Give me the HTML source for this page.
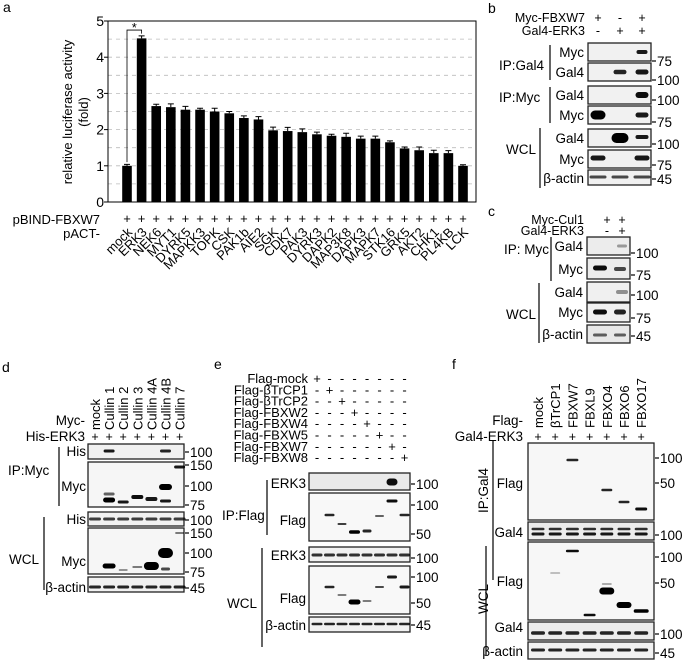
<!DOCTYPE html>
<html><head><meta charset="utf-8"><style>
html,body{margin:0;padding:0;background:#fff;}
svg{display:block;font-family:"Liberation Sans",Arial,sans-serif;}
</style></head><body>
<svg id="fig" width="685" height="661" viewBox="0 0 685 661" xmlns="http://www.w3.org/2000/svg">
<g id="pa"></g>
<g id="blots"></g>
</svg>
<script>
// ---- Panel a chart data ----
const categories = ["mock","ERK3","NEK6","MYT1","DYRK5","MAPKK3","TOPK","CSK","PAK1b","AIE2","SGK","CDK7","PAK3","DYRK3","DAPK2","MAP3K8","DAPK3","MAPK7","STK16","GRK5","AKT2","CHK1","PL4KB","LCK"];
const values = [1.0,4.52,2.65,2.62,2.55,2.55,2.5,2.45,2.32,2.28,1.98,1.96,1.93,1.87,1.83,1.8,1.75,1.75,1.65,1.48,1.43,1.35,1.35,1.0];
const errors = [0.04,0.07,0.05,0.09,0.09,0.04,0.09,0.05,0.06,0.08,0.09,0.1,0.09,0.06,0.04,0.1,0.07,0.07,0.04,0.04,0.09,0.08,0.07,0.03];
const yTicks = [0,1,2,3,4,5];
const gridLines = [0.5,1.5,2.5,3.5,4.5,1,2,3,4];

const NS="http://www.w3.org/2000/svg";
function mk(tag,parent,attrs,text){const e=document.createElementNS(NS,tag);for(const k in attrs)e.setAttribute(k,attrs[k]);if(text!==undefined)e.textContent=text;parent.appendChild(e);return e;}

const pa=document.getElementById('pa');
const X0=108,X1=476,Y0=202,Y1=21;
const yS=v=>Y0-(Y0-Y1)*v/5;
const xS=i=>127+i*(463-127)/(categories.length-1);

let t=mk('text',pa,{x:3,y:12,'font-size':14},'a');


gridLines.forEach(g=>{const l=mk('line',pa,{x1:X0,x2:X1,y1:yS(g),y2:yS(g),stroke:'#bbb','stroke-width':0.8,'stroke-dasharray':'4,4'});

});
let fr=mk('rect',pa,{x:X0,y:Y1,width:X1-X0,height:Y0-Y1,fill:'none',stroke:'#000','stroke-width':1});


yTicks.forEach(v=>{const l=mk('line',pa,{x1:X0-4,x2:X0,y1:yS(v),y2:yS(v),stroke:'#000'});


const tx=mk('text',pa,{x:X0-4,y:yS(v)+5,'font-size':14,'text-anchor':'end'},String(v));

});
t=mk('text',pa,{x:0,y:0,'font-size':13,'text-anchor':'middle',transform:'translate(72,112) rotate(-90)'},'relative luciferase activity');


t=mk('text',pa,{x:0,y:0,'font-size':13,'text-anchor':'middle',transform:'translate(88,112) rotate(-90)'},'(fold)');


categories.forEach((c,i)=>{
 const cx=xS(i),v=values[i],e=errors[i];
 const b=mk('rect',pa,{x:cx-4.8,y:yS(v),width:9.6,height:Y0-yS(v),fill:'#000'});
 
 
 const eb=mk('path',pa,{d:`M${cx},${yS(v)} V${yS(v+e)} M${cx-3},${yS(v+e)} H${cx+3}`,stroke:'#000','stroke-width':1,fill:'none'});
 
 
 const p=mk('text',pa,{x:cx,y:223,'font-size':13,'text-anchor':'middle'},'+');
 
 
 const l=mk('text',pa,{x:0,y:0,'font-size':13,'text-anchor':'end',transform:`translate(${cx+6},${233}) rotate(-45)`},c);
 
 
});
let br=mk('path',pa,{d:`M${xS(0)},${yS(values[0]+0.1)} V${yS(4.75)} H${xS(1)} V${yS(4.65)}`,stroke:'#000',fill:'none','stroke-width':0.8});


t=mk('text',pa,{x:(xS(0)+xS(1))/2,y:yS(4.78)+3,'font-size':13,'text-anchor':'middle'},'*');


t=mk('text',pa,{x:100,y:224,'font-size':13,'text-anchor':'end'},'pBIND-FBXW7');


t=mk('text',pa,{x:100,y:238,'font-size':13,'text-anchor':'end'},'pACT-');



// ---- Blots ----
const G=document.getElementById('blots');
function txt(x,y,s,opts,name){const o=Object.assign({x:x,y:y,'font-size':12.5},opts||{});const e=mk('text',G,o,s);

return e;}
function line(x1,y1,x2,y2,name){const e=mk('line',G,{x1,y1,x2,y2,stroke:'#000','stroke-width':1.2});

}
function strip(x0,x1,y0,y1,bands,name,bg){
 const r=mk('rect',G,{x:x0,y:y0,width:x1-x0,height:y1-y0,fill:bg||'#f1f1f1',stroke:'#222','stroke-width':1.3});
 
 
 bands.forEach(b=>{const [cx,cy,w,h,op]=b;
  const e=mk('rect',G,{x:cx-w/2,y:cy-h/2,width:w,height:h,rx:h/2,fill:'#000','fill-opacity':op});
  
  });
}
function marker(x,y,s){line(x,y,x+4,y,'marker-tick');txt(x+5,y+5,s,{'font-size':13.5},'mw-marker');}
const BL=13.5;

// Panel b
txt(488,13,'b',{'font-size':14},'panel-b-label');
txt(585,22,'Myc-FBXW7',{'text-anchor':'end'},'row-label');txt(585,35,'Gal4-ERK3',{'text-anchor':'end'},'row-label');
[['+','-','+'],['-','+','+']].forEach((r,j)=>r.forEach((s,i)=>txt(598+i*22,22+j*13,s,{'text-anchor':'middle'},'sign')));
const bl=[598,620,642];
strip(588,651,43,61,[[642,52,11,4,0.9]],'blot-ip-gal4-myc');
strip(588,651,63,81,[[620,72,13,4.5,0.85],[642,72,13,5,0.9]],'blot-ip-gal4-gal4');
strip(588,651,86,104,[[642,95,13,6,0.95]],'blot-ip-myc-gal4');
strip(588,651,106,124,[[598,115,15,9,1],[642,115,13,5,0.9]],'blot-ip-myc-myc');
strip(588,651,129,147,[[620,138,17,10,1],[642,137,13,4,0.9]],'blot-wcl-gal4');
strip(588,651,150,168,[[598,158,15,5,0.9],[642,158,15,5,0.9]],'blot-wcl-myc');
strip(588,651,170,185,bl.map(x=>[x,177,17,3,0.7]),'blot-wcl-actin');
['Myc','Gal4','Gal4','Myc','Gal4','Myc'].forEach((s,i)=>txt(584,[57,77,100,120,143,164][i],s,{'text-anchor':'end','font-size':BL},'blot-label'));
txt(584,183,'β-actin',{'text-anchor':'end','font-size':BL},'blot-label');
marker(652,61,'75');marker(652,80,'100');marker(652,100,'100');marker(652,122,'75');marker(652,144,'100');marker(652,165,'75');marker(652,179,'45');
txt(499,70,'IP:Gal4',{'font-size':BL},'ip-label');line(550,45,550,80);
txt(499,102,'IP:Myc',{'font-size':BL},'ip-label');line(550,87,550,123);
txt(506,154,'WCL',{'font-size':BL},'wcl-label');line(540,128,540,188);

// Panel c
txt(488,216,'c',{'font-size':14},'panel-c-label');
txt(584,224,'Myc-Cul1',{'text-anchor':'end'},'row-label');txt(584,235,'Gal4-ERK3',{'text-anchor':'end'},'row-label');
txt(607,224,'+',{'text-anchor':'middle'},'sign');txt(622,224,'+',{'text-anchor':'middle'},'sign');
txt(607,235,'-',{'text-anchor':'middle'},'sign');txt(622,235,'+',{'text-anchor':'middle'},'sign');
strip(587,630,237,255,[[622,246,10,3,0.35]],'blot-c-ip-gal4','#ececec');
strip(587,630,258,279,[[600,268,14,5,0.95],[620,269,12,4,0.7]],'blot-c-ip-myc','#ececec');
strip(587,630,282,302,[[622,292,12,4,0.4]],'blot-c-wcl-gal4','#f0f0f0');
strip(587,630,303,322,[[600,312,14,5,0.95],[620,312,12,5,0.85]],'blot-c-wcl-myc');
strip(587,630,325,343,[[600,335,14,3,0.6],[620,335,12,3,0.6]],'blot-c-wcl-actin','#e8e8e8');
txt(583,251,'Gal4',{'text-anchor':'end','font-size':BL},'blot-label');txt(583,274,'Myc',{'text-anchor':'end','font-size':BL},'blot-label');
txt(583,297,'Gal4',{'text-anchor':'end','font-size':BL},'blot-label');txt(583,317,'Myc',{'text-anchor':'end','font-size':BL},'blot-label');
txt(583,339,'β-actin',{'text-anchor':'end','font-size':BL},'blot-label');
marker(631,253,'100');marker(631,275,'75');marker(631,295,'100');marker(631,318,'75');marker(631,336,'45');
txt(504,254,'IP: Myc',{'font-size':BL},'ip-label');line(551,237,551,281);
txt(506,319,'WCL',{'font-size':BL},'wcl-label');line(539,283,539,343);

// Panel d
txt(2,372,'d',{'font-size':14},'panel-d-label');
const dl=[0,1,2,3,4,5,6].map(i=>95+i*14.1);
['mock','Cullin 1','Cullin 2','Cullin 3','Cullin 4A','Cullin 4B','Cullin 7'].forEach((s,i)=>txt(0,0,s,{transform:`translate(${dl[i]+5},430) rotate(-90)`,'font-size':13},'lane-label'));
txt(85,425,'Myc-',{'text-anchor':'end','font-size':BL},'row-label');txt(85,441,'His-ERK3',{'text-anchor':'end','font-size':BL},'row-label');
dl.forEach(x=>txt(x,441,'+',{'text-anchor':'middle'},'sign'));
strip(88,184,444,459,[[dl[1],451,11,3,0.9],[dl[5],451,11,3,0.85]],'blot-d-ip-his');
strip(88,184,462,507,[[dl[1],500,12,5,1],[dl[1],494,11,3,0.6],[dl[2],502,11,3,0.9],[dl[3],497,12,4,0.95],[dl[4],499,12,4,0.9],[dl[5],487,13,6,1],[dl[5],501,11,3,0.9],[dl[6],467,11,3,0.9]],'blot-d-ip-myc','#f6f6f6');
strip(88,184,512,526,dl.map(x=>[x,519,12,3,0.75]),'blot-d-wcl-his');
strip(88,184,528,574,[[dl[1],566,13,5,1],[dl[2],570,9,2,0.4],[dl[3],567,10,2,0.5],[dl[4],566,15,8,1],[dl[5],553,15,10,1],[dl[5],569,9,3,0.7],[dl[6],533,9,2,0.5]],'blot-d-wcl-myc','#f6f6f6');
strip(88,184,577,592,dl.map(x=>[x,587,12,3,0.85]),'blot-d-wcl-actin');
txt(86,456,'His',{'text-anchor':'end','font-size':BL},'blot-label');txt(86,491,'Myc',{'text-anchor':'end','font-size':BL},'blot-label');
txt(86,524,'His',{'text-anchor':'end','font-size':BL},'blot-label');txt(86,566,'Myc',{'text-anchor':'end','font-size':BL},'blot-label');
txt(86,592,'β-actin',{'text-anchor':'end','font-size':BL},'blot-label');
marker(185,452,'100');marker(185,465,'150');marker(185,486,'100');marker(185,505,'75');marker(185,520,'100');marker(185,533,'150');marker(185,553,'100');marker(185,572,'75');marker(185,588,'45');
txt(8,475,'IP:Myc',{'font-size':BL},'ip-label');line(59,447,59,506);
txt(9,564,'WCL',{'font-size':BL},'wcl-label');line(44,517,44,590);

// Panel e
txt(214,369,'e',{'font-size':14},'panel-e-label');
const el=[0,1,2,3,4,5,6,7].map(i=>317+i*12.5);
['Flag-mock','Flag-βTrCP1','Flag-βTrCP2','Flag-FBXW2','Flag-FBXW4','Flag-FBXW5','Flag-FBXW7','Flag-FBXW8'].forEach((s,j)=>{
 txt(308,383+j*11.3,s,{'text-anchor':'end','font-size':13},'row-label');
 el.forEach((x,i)=>txt(x,383+j*11.3,i===j?'+':'-',{'text-anchor':'middle','font-size':13},'sign'));});
strip(309,410,473,490,[[el[6],482,11,7,0.95]],'blot-e-ip-erk3','#e9e9e9');
strip(309,410,493,541,[[el[1],515,10,2.5,0.85],[el[2],524,9,2,0.75],[el[3],532,11,3.5,1],[el[4],531,9,3,0.85],[el[5],516,9,2,0.6],[el[6],501,11,3,0.95],[el[7],515,10,2.5,0.85]],'blot-e-ip-flag','#f8f8f8');
strip(309,410,547,562,el.map(x=>[x,555,11,3,0.8]),'blot-e-wcl-erk3');
strip(309,410,566,614,[[el[1],587,10,2.5,0.85],[el[2],595,9,2,0.5],[el[3],602,12,5,1],[el[4],601,9,2,0.5],[el[5],587,9,2,0.7],[el[6],577,10,3,0.9],[el[7],587,10,3,0.9]],'blot-e-wcl-flag','#f8f8f8');
strip(309,410,617,632,el.map(x=>[x,624,11,2.5,0.85]),'blot-e-wcl-actin');
txt(306,488,'ERK3',{'text-anchor':'end','font-size':BL},'blot-label');txt(306,525,'Flag',{'text-anchor':'end','font-size':BL},'blot-label');
txt(306,560,'ERK3',{'text-anchor':'end','font-size':BL},'blot-label');txt(306,603,'Flag',{'text-anchor':'end','font-size':BL},'blot-label');
txt(306,630,'β-actin',{'text-anchor':'end','font-size':BL},'blot-label');
marker(411,484,'100');marker(411,505,'100');marker(411,534,'50');marker(411,558,'100');marker(411,577,'100');marker(411,603,'50');marker(411,625,'45');
txt(222,520,'IP:Flag',{'font-size':BL},'ip-label');line(267,480,267,535);
txt(227,608,'WCL',{'font-size':BL},'wcl-label');line(262,548,262,647);

// Panel f
txt(452,369,'f',{'font-size':14},'panel-f-label');
const fl=[0,1,2,3,4,5,6].map(i=>538+i*17.2);
['mock','βTrCP1','FBXW7','FBXL9','FBXO4','FBXO6','FBXO17'].forEach((s,i)=>txt(0,0,s,{transform:`translate(${fl[i]+5},428) rotate(-90)`,'font-size':13},'lane-label'));
txt(523,425,'Flag-',{'text-anchor':'end','font-size':BL},'row-label');txt(523,441,'Gal4-ERK3',{'text-anchor':'end','font-size':BL},'row-label');
fl.forEach(x=>txt(x,441,'+',{'text-anchor':'middle'},'sign'));
strip(528,654,443,520,[[fl[2],460,12,2.5,0.85],[fl[4],490,11,2.5,0.85],[fl[5],502,11,2.5,0.85],[fl[6],509,12,3,0.95]],'blot-f-ip-flag','#f7f7f7');
strip(528,654,522,540,fl.flatMap(x=>[[x,529,13,2.5,0.8],[x,534,13,3,0.9]]),'blot-f-ip-gal4','#ececec');
strip(528,654,542,620,[[fl[1],573,10,1.5,0.3],[fl[2],551,13,2.5,0.95],[fl[3],615,12,2.5,0.95],[fl[4],591,15,7,1],[fl[4],584,10,2,0.3],[fl[5],605,15,6,1],[fl[6],611,15,3.5,1]],'blot-f-wcl-flag','#f7f7f7');
strip(528,654,622,640,fl.map(x=>[x,633,14,3.5,0.85]),'blot-f-wcl-gal4','#ececec');
strip(528,654,642,659,fl.map(x=>[x,650,14,3,0.85]),'blot-f-wcl-actin');
txt(523,488,'Flag',{'text-anchor':'end','font-size':BL},'blot-label');txt(523,537,'Gal4',{'text-anchor':'end','font-size':BL},'blot-label');
txt(523,586,'Flag',{'text-anchor':'end','font-size':BL},'blot-label');txt(523,632,'Gal4',{'text-anchor':'end','font-size':BL},'blot-label');
txt(523,656,'β-actin',{'text-anchor':'end','font-size':BL},'blot-label');
marker(655,458,'100');marker(655,483,'50');marker(655,535,'100');marker(655,557,'100');marker(655,583,'50');marker(655,634,'100');marker(655,653,'45');
txt(0,0,'IP:Gal4',{transform:'translate(488,513) rotate(-90)','font-size':BL},'ip-label');line(493,440,493,580);
txt(0,0,'WCL',{transform:'translate(488,614) rotate(-90)','font-size':BL},'wcl-label');line(486,546,486,655);
</script>
</body></html>
